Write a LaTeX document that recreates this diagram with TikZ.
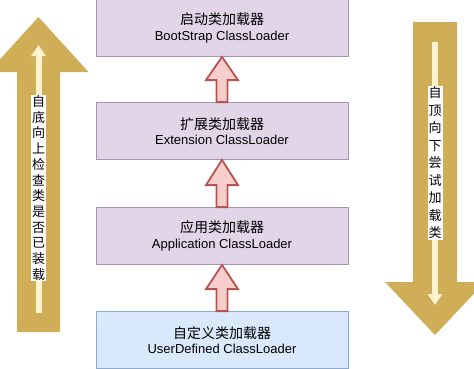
\documentclass[tikz,border=0pt]{standalone}
\usepackage{fontspec}
\setmainfont{Liberation Sans}
\newfontfamily\cjk{Noto Sans CJK SC}
\usetikzlibrary{arrows.meta}

\definecolor{gold}{HTML}{D0AD57}
\definecolor{cream}{HTML}{FFF2CC}
\definecolor{lilac}{HTML}{E1D5E7}
\definecolor{lilacline}{HTML}{A894B4}
\definecolor{skyfill}{HTML}{DAE8FC}
\definecolor{skyline}{HTML}{8FA8CF}
\definecolor{rosefill}{HTML}{F8CECC}
\definecolor{roseline}{HTML}{B85450}

\begin{document}
\begin{tikzpicture}[
    x=1pt,y=-1pt,
    >=Stealth,
    loader/.style={draw=lilacline,fill=lilac,line width=0.8pt,
        minimum width=252pt,minimum height=57pt,inner sep=0pt,
        align=center,font=\fontsize{13}{15.5}\selectfont},
    userloader/.style={loader,draw=skyline,fill=skyfill},
    hollow/.style={draw=roseline,fill=rosefill,line width=1.8pt,line join=miter},
    bigarrow/.style={fill=gold,draw=none},
    guide/.style={cream,line width=6pt,-{Triangle[width=14pt,length=11pt]}},
    vtext/.style={fill=white,inner sep=1pt,align=center},
]
\useasboundingbox (0,0) rectangle (474,368);
\clip (0,0) rectangle (474,368);

% Loaders
\node[loader] (boot) at (222,28) {{\cjk\fontsize{14}{15.5}\selectfont 启动类加载器}\\BootStrap ClassLoader};
\node[loader] (ext) at (222,131) {{\cjk\fontsize{14}{15.5}\selectfont 扩展类加载器}\\Extension ClassLoader};
\node[loader] (app) at (222,236) {{\cjk\fontsize{14}{15.5}\selectfont 应用类加载器}\\Application ClassLoader};
\node[userloader] (user) at (222,340) {{\cjk\fontsize{14}{15.5}\selectfont 自定义类加载器}\\UserDefined ClassLoader};

% Hollow arrows between loaders
\foreach \lo/\hi in {user/app, app/ext, ext/boot} {
  \draw[hollow] ([xshift=-5.5pt]\lo.north) -- ([xshift=-5.5pt,yshift=22pt]\lo.north)
    -- ([xshift=-16pt,yshift=22pt]\lo.north) -- (\hi.south)
    -- ([xshift=16pt,yshift=22pt]\lo.north) -- ([xshift=5.5pt,yshift=22pt]\lo.north)
    -- ([xshift=5.5pt]\lo.north) -- cycle;
}

% Left arrow: up
\fill[bigarrow] (38.5,17) -- (88.5,72) -- (60,72) -- (60,332) -- (17,332)
    -- (17,72) -- (-11.5,72) -- cycle;
\coordinate (lbot) at (38.5,313);
\coordinate (ltop) at (38.5,45);
\draw[guide] (lbot) -- (ltop);
\node[vtext,font=\cjk\fontsize{13}{15.7}\selectfont] (up) at (38.5,188)
    {自\\底\\向\\上\\检\\查\\类\\是\\否\\已\\装\\载};

% Right arrow: down
\fill[bigarrow] (413,22) -- (457,22) -- (457,282) -- (485,282) -- (435,335)
    -- (385,282) -- (413,282) -- cycle;
\coordinate (rtop) at (435,42);
\coordinate (rbot) at (435,305);
\draw[guide] (rtop) -- (rbot);
\node[vtext,font=\cjk\fontsize{13}{17.5}\selectfont] (down) at (435,163)
    {自\\顶\\向\\下\\尝\\试\\加\\载\\类};
\end{tikzpicture}
\end{document}
